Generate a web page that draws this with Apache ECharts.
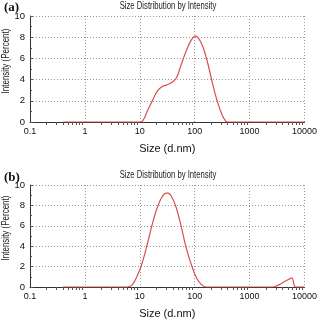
<!DOCTYPE html>
<html>
<head>
<meta charset="utf-8">
<script src="https://cdn.jsdelivr.net/npm/echarts@6/dist/echarts.min.js"></script>
<style>
  html, body { margin: 0; padding: 0; background: #fff; }
  #chart { width: 320px; height: 320px; }
</style>
</head>
<body>
<div id="chart"></div>
<script>
const titleText = "Size Distribution by Intensity";
const xName = "Size (d.nm)";
const yName = "Intensity (Percent)";
const panelLabels = ["(a)", "(b)"];

// panel (a)
const sizesA = [0.4, 1, 5, 10.4, 14, 17.2, 21, 25.7, 34, 41.5, 47.6, 58, 71, 87, 103, 114, 141, 173, 211, 259, 316, 371, 400, 1000, 10000];
const intensityA = [0, 0, 0, 0, 1.13, 2.08, 2.93, 3.34, 3.59, 3.87, 4.28, 5.54, 6.8, 7.75, 8.1, 8.0, 7.1, 5.54, 3.65, 1.92, 0.66, 0.06, 0, 0, 0];

// panel (b)
const sizesB = [0.4, 1, 5.8, 7.2, 8.8, 10.9, 13.4, 16.4, 20.2, 24.8, 30.5, 32.7, 37.6, 46, 57, 70, 86, 106, 130, 160, 1000, 2700, 3800, 4700, 5900, 6800, 10000];
const intensityB = [0, 0, 0, 0.19, 0.98, 2.25, 3.99, 5.9, 7.6, 8.73, 9.2, 9.2, 8.9, 7.8, 5.9, 3.83, 2.25, 0.98, 0.28, 0, 0, 0, 0.35, 0.63, 0.89, 0, 0];

const font = "Liberation Sans, Arial, sans-serif";
const grids = [
  { left: 30, right: 13, top: 16, height: 106 },
  { left: 30, right: 13, top: 185, height: 105 },
];
// centres of the squeezed header / y-name texts, one per panel
const titleCentres = [6, 175];
const yNameCentres = [61, 228];

const xAxisFor = (i) => ({
  type: "log",
  logBase: 10,
  min: 0.1,
  max: 10000,
  gridIndex: i,
  name: xName,
  nameLocation: "middle",
  nameGap: 21,
  nameTextStyle: { color: "#111", fontSize: 11, fontFamily: font },
  axisLine: { lineStyle: { color: "#333", width: 1 } },
  axisTick: { show: false },
  minorTick: { show: true, splitNumber: 9, length: 3, lineStyle: { color: "#555" } },
  axisLabel: {
    color: "#111", fontSize: 9, fontFamily: font, margin: 5,
    formatter: (v) => String(+v.toPrecision(3)),
  },
  splitLine: { show: true, lineStyle: { type: [1, 2], color: "#999" } },
});

const yAxisFor = (i) => ({
  type: "value",
  min: 0,
  max: 10,
  interval: 2,
  gridIndex: i,
  axisLine: { show: true, lineStyle: { color: "#333", width: 1 } },
  axisTick: { show: true, inside: true, length: 3, lineStyle: { color: "#555" } },
  minorTick: { show: true, splitNumber: 2, length: 2, lineStyle: { color: "#555" } },
  axisLabel: { color: "#111", fontSize: 9.5, fontFamily: font, margin: 5 },
  splitLine: { show: true, lineStyle: { type: [1, 2], color: "#999" } },
});

const lineSeries = (i, xs, ys) => ({
  type: "line",
  xAxisIndex: i,
  yAxisIndex: i,
  data: xs.map((x, k) => [x, ys[k]]),
  smooth: 0.3,
  showSymbol: false,
  lineStyle: { color: "#d94f4f", width: 1.2 },
});

const squeezed = (text, x, y, rotation, scaleX, fontSize) => ({
  type: "text",
  x, y, rotation, scaleX,
  style: {
    text, fill: "#1a1a1a", fontSize, fontFamily: font,
    align: "center", verticalAlign: "middle",
  },
});

const chart = echarts.init(document.getElementById("chart"));
chart.setOption({
  animation: false,
  backgroundColor: "#fff",
  title: [
    { text: panelLabels[0], left: -1, top: -4,
      textStyle: { fontSize: 13, fontWeight: "bold", color: "#111", fontFamily: "Liberation Serif, serif" } },
    { text: panelLabels[1], left: -1, top: 166,
      textStyle: { fontSize: 13, fontWeight: "bold", color: "#111", fontFamily: "Liberation Serif, serif" } },
  ],
  graphic: [
    ...titleCentres.map((cy) => squeezed(titleText, 168, cy, 0, 0.7, 11)),
    ...yNameCentres.map((cy) => squeezed(yName, 6, cy, Math.PI / 2, 0.76, 10.5)),
  ],
  grid: grids,
  xAxis: [xAxisFor(0), xAxisFor(1)],
  yAxis: [yAxisFor(0), yAxisFor(1)],
  series: [lineSeries(0, sizesA, intensityA), lineSeries(1, sizesB, intensityB)],
});
</script>
</body>
</html>
